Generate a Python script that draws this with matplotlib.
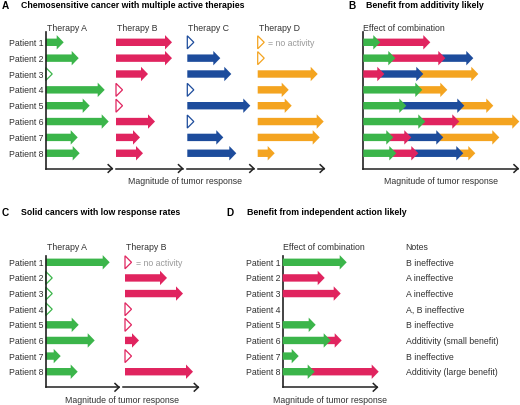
import numpy as np
import matplotlib
matplotlib.use('Agg')
import matplotlib.pyplot as plt
from matplotlib.patches import Polygon

plt.rcParams['font.family'] = ['Liberation Sans', 'DejaVu Sans']

# ---- data (response magnitude, 0 = no activity) ----
patients = ['Patient 1', 'Patient 2', 'Patient 3', 'Patient 4',
            'Patient 5', 'Patient 6', 'Patient 7', 'Patient 8']
therapies_a = ['Therapy A', 'Therapy B', 'Therapy C', 'Therapy D']
therapies_c = ['Therapy A', 'Therapy B']

# panel A: individual therapies
a_therapy_a = [18, 33, 0, 59, 44, 63, 32, 34]
a_therapy_b = [56, 56, 32, 0, 0, 39, 24, 27]
a_therapy_c = [0, 33, 44, 0, 63, 0, 36, 49]
a_therapy_d = [0, 0, 60, 31, 34, 66, 62, 17]

# panel B: visible segments of the combination (A, B, C, D order)
b_combo_a = [17, 32, 0, 59, 43, 62, 30, 33]
b_combo_b = [50, 50, 21, 0, 0, 34, 18, 22]
b_combo_c = [0, 28, 39, 0, 58, 0, 32, 45]
b_combo_d = [0, 0, 55, 25, 29, 60, 56, 12]

# panel C: individual therapies
c_therapy_a = [64, 0, 0, 0, 33, 49, 15, 32]
c_therapy_b = [0, 42, 58, 0, 0, 14, 0, 68]

# panel D: visible segments of the combination
d_combo_a = [64, 0, 0, 0, 33, 48, 16, 32]
d_combo_b = [0, 42, 58, 0, 0, 11, 0, 64]
notes = ['B ineffective', 'A ineffective', 'A ineffective', 'A, B ineffective',
         'B ineffective', 'Additivity (small benefit)', 'B ineffective',
         'Additivity (large benefit)']

green = '#3bb54a'
pink = '#e0245f'
blue = '#1d4c9c'
orange = '#f4a420'
colors = [green, pink, blue, orange]
txt = '#333333'

fig = plt.figure(figsize=(5.2, 4.06), dpi=100)
ax = fig.add_axes([0, 0, 1, 1])
ax.set_xlim(0, 520)
ax.set_ylim(406, 0)
ax.axis('off')

TAIL = 3.7
HEAD_W = 7.2
HEAD_L = 7.0
LAB = 6.3


def arrow(x0, length, y, color, z=3):
    x1 = x0 + length
    hb = x1 - HEAD_L
    pts = [(x0, y - TAIL), (hb, y - TAIL), (hb, y - HEAD_W), (x1, y),
           (hb, y + HEAD_W), (hb, y + TAIL), (x0, y + TAIL)]
    ax.add_patch(Polygon(pts, closed=True, fc=color, ec='none', zorder=z))


def no_activity(x0, y, color):
    pts = [(x0, y - 6.5), (x0 + 6.5, y), (x0, y + 6.5)]
    ax.add_patch(Polygon(pts, closed=True, fc='white', ec=color, lw=0.9, zorder=4))


def h_axis(x0, x1, y):
    ax.plot([x0, x1], [y, y], color='#222222', lw=1.1, zorder=2)
    ax.plot([x1 - 4, x1, x1 - 4], [y - 3.8, y, y + 3.8], color='#222222', lw=1.1,
            zorder=2, solid_joinstyle='miter')


def v_axis(x, y0, y1):
    ax.plot([x, x], [y0, y1], color='#222222', lw=1.2, zorder=5)


def patient_labels(x, rows):
    for name, y in zip(patients, rows):
        ax.text(x, y, name, ha='right', va='center', fontsize=LAB, color=txt)


def single_column(x0, vals, rows, color):
    for v, y in zip(vals, rows):
        if v > 0:
            arrow(x0, v, y, color)
        else:
            no_activity(x0, y, color)


def combination(x0, segs, rows):
    for i, y in enumerate(rows):
        parts = []
        for k, s in enumerate(segs):
            if s[i] > 0:
                if parts:
                    tip = parts[-1][0] + parts[-1][1]
                    parts.append((tip - HEAD_L, s[i] + HEAD_L, colors[k]))
                else:
                    parts.append((x0, s[i], colors[k]))
        for j, (b, l, c) in enumerate(parts):
            arrow(b, l, y, c, z=10 - j)


def title(xl, xt, y, letter, text):
    ax.text(xl, y, letter, ha='left', va='center', fontsize=7.2, fontweight='bold', color='black')
    ax.text(xt, y, text, ha='left', va='center', fontsize=6.3, fontweight='bold', color='black')


# ---------------- panel A ----------------
rows_a = 43.3 + np.arange(8) * 15.85
ax_y_a = 169.5
cols_a = [45.7, 116.0, 187.3, 257.7]
title(2, 20.7, 6, 'A', 'Chemosensitive cancer with multiple active therapies')
patient_labels(43.3, rows_a)
for x0, name, vals, c in zip(cols_a, therapies_a,
                             [a_therapy_a, a_therapy_b, a_therapy_c, a_therapy_d], colors):
    ax.text(x0 + 1, 28.3, name, ha='left', va='center', fontsize=LAB, color=txt)
    single_column(x0, vals, rows_a, c)
    h_axis(x0, x0 + 66.5, ax_y_a)
v_axis(cols_a[0], 33, ax_y_a)
ax.text(268.3, rows_a[0], '= no activity', ha='left', va='center', fontsize=LAB, color='#999999')
ax.text(185, 181.7, 'Magnitude of tumor response', ha='center', va='center', fontsize=LAB, color=txt)

# ---------------- panel B ----------------
x_b = 363.3
title(348, 366, 6, 'B', 'Benefit from additivity likely')
ax.text(x_b, 28.3, 'Effect of combination', ha='left', va='center', fontsize=LAB, color=txt)
combination(x_b, [b_combo_a, b_combo_b, b_combo_c, b_combo_d], rows_a)
v_axis(x_b, 33, ax_y_a)
h_axis(x_b, 518, ax_y_a)
ax.text(441, 181.7, 'Magnitude of tumor response', ha='center', va='center', fontsize=LAB, color=txt)

# ---------------- panel C ----------------
rows_c = 263.3 + np.arange(8) * 15.63
ax_y_c = 388.3
cols_c = [45.7, 125.0]
title(2, 20.7, 212.7, 'C', 'Solid cancers with low response rates')
patient_labels(43.3, rows_c)
for x0, name, vals, c in zip(cols_c, therapies_c, [c_therapy_a, c_therapy_b], colors):
    ax.text(x0 + 1, 247.7, name, ha='left', va='center', fontsize=LAB, color=txt)
    single_column(x0, vals, rows_c, c)
h_axis(45.7, 119, ax_y_c)
h_axis(123.3, 198.3, ax_y_c)
v_axis(45.7, 257, ax_y_c)
ax.text(135.5, rows_c[0], '= no activity', ha='left', va='center', fontsize=LAB, color='#999999')
ax.text(122, 401, 'Magnitude of tumor response', ha='center', va='center', fontsize=LAB, color=txt)

# ---------------- panel D ----------------
x_d = 282.7
title(226.7, 246.7, 212.7, 'D', 'Benefit from independent action likely')
patient_labels(280.7, rows_c)
ax.text(x_d + 0.6, 247.7, 'Effect of combination', ha='left', va='center', fontsize=LAB, color=txt)
combination(x_d, [d_combo_a, d_combo_b], rows_c)
v_axis(x_d, 257, ax_y_c)
h_axis(x_d, 377.3, ax_y_c)
ax.text(330, 401, 'Magnitude of tumor response', ha='center', va='center', fontsize=LAB, color=txt)
ax.text(405.7, 247.7, 'Notes', ha='left', va='center', fontsize=LAB, color=txt)
for n, y in zip(notes, rows_c):
    ax.text(405.7, y, n, ha='left', va='center', fontsize=LAB, color=txt)

fig.savefig('out.png', dpi=100)
